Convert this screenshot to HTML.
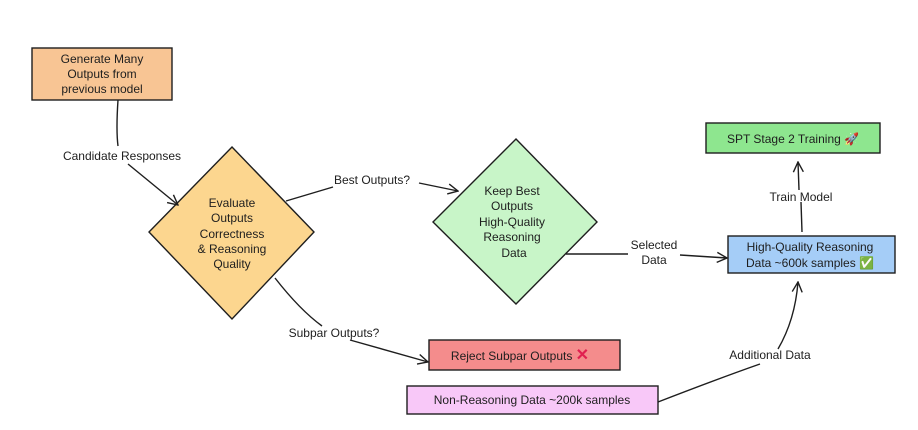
<!DOCTYPE html>
<html><head><meta charset="utf-8"><style>
html,body{margin:0;padding:0;background:#fff;}
svg{display:block;}
text{font-family:"Liberation Sans",sans-serif;font-size:12px;fill:#1e1e1e;}
</style></head><body>
<svg width="918" height="430" viewBox="0 0 918 430" xmlns="http://www.w3.org/2000/svg">
<defs><marker id="a" viewBox="0 0 12 12" refX="11" refY="6" markerWidth="12" markerHeight="12" markerUnits="userSpaceOnUse" orient="auto"><path d="M1 1 L11 6 L1 11" fill="none" stroke="#1e1e1e" stroke-width="1.4"/></marker></defs>
<g stroke="#1e1e1e" stroke-width="1.4">
<rect x="32" y="48" width="140" height="52" fill="#f8c594"/>
<polygon points="232,147 314,232 232,319 149,232" fill="#fcd68f"/>
<polygon points="516,139 597,222 516,304 433,222" fill="#c8f5c8"/>
<rect x="706" y="123" width="174" height="30" fill="#8ee68f"/>
<rect x="728" y="236" width="167" height="37" fill="#a5cdf7"/>
<rect x="429" y="340" width="191" height="30" fill="#f48c8c"/>
<rect x="407" y="386" width="251" height="28" fill="#f8c8f8"/>
</g>
<g stroke="#1e1e1e" stroke-width="1.4" fill="none">
<path d="M118 100 Q116 130 118 146"/>
<path d="M128 164 L178 205" marker-end="url(#a)"/>
<path d="M286 201 L333 187"/>
<path d="M419 183 L458 191" marker-end="url(#a)"/>
<path d="M566 254 L628 254"/>
<path d="M680 255 L727 258" marker-end="url(#a)"/>
<path d="M802 232 L801 202"/>
<path d="M799 190 L798 162" marker-end="url(#a)"/>
<path d="M275 278 Q300 310 322 326"/>
<path d="M350 340 L428 362" marker-end="url(#a)"/>
<path d="M658 402 Q720 378 760 364"/>
<path d="M778 349 Q795 320 798 282" marker-end="url(#a)"/>
</g>
<g text-anchor="middle">
<text x="102" y="63">Generate Many</text>
<text x="102" y="78">Outputs from</text>
<text x="102" y="93">previous model</text>
<text x="122" y="160">Candidate Responses</text>
<text x="232" y="207">Evaluate</text>
<text x="232" y="222">Outputs</text>
<text x="232" y="238">Correctness</text>
<text x="232" y="253">&amp; Reasoning</text>
<text x="232" y="268">Quality</text>
<text x="372" y="184">Best Outputs?</text>
<text x="512" y="195">Keep Best</text>
<text x="512" y="210">Outputs</text>
<text x="512" y="226">High-Quality</text>
<text x="512" y="241">Reasoning</text>
<text x="514" y="257">Data</text>
<text x="654" y="249">Selected</text>
<text x="654" y="264">Data</text>
<text x="793" y="143">SPT Stage 2 Training 🚀</text>
<text x="801" y="201">Train Model</text>
<text x="810" y="251">High-Quality Reasoning</text>
<text x="810" y="267">Data ~600k samples ✅</text>
<text x="334" y="337">Subpar Outputs?</text>
<text x="520" y="360">Reject Subpar Outputs <tspan fill="#e02050" font-size="16" font-weight="bold">✕</tspan></text>
<text x="532" y="404">Non-Reasoning Data ~200k samples</text>
<text x="770" y="359">Additional Data</text>
</g>
</svg>
</body></html>
